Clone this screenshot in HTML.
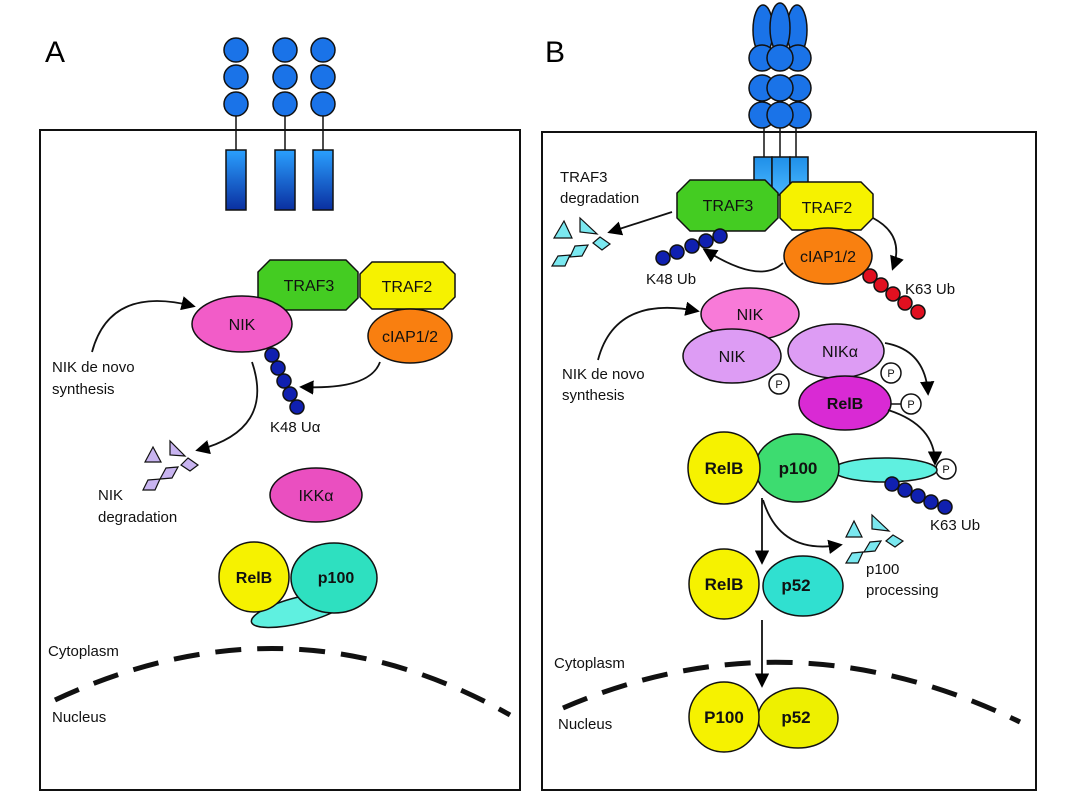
<!DOCTYPE html>
<html><head><meta charset="utf-8"><style>
html,body{margin:0;padding:0;background:#fff;}
svg{display:block;font-family:"Liberation Sans",Arial,sans-serif;}
</style></head><body>
<svg width="1080" height="810" viewBox="0 0 1080 810" xmlns="http://www.w3.org/2000/svg">
<defs>
<linearGradient id="bl" x1="0" y1="0" x2="0" y2="1"><stop offset="0" stop-color="#2aa0ff"/><stop offset="1" stop-color="#0a2fa0"/></linearGradient>
<linearGradient id="bl2" x1="0" y1="0" x2="0" y2="1"><stop offset="0" stop-color="#1f8fe8"/><stop offset="1" stop-color="#49b7ff"/></linearGradient>
<marker id="ar" viewBox="0 0 10 10" refX="8" refY="5" markerWidth="8" markerHeight="8" orient="auto"><path d="M0,0 L10,5 L0,10 z" fill="#000"/></marker>
</defs>
<rect width="1080" height="810" fill="#fff"/>
<text x="45" y="62" font-size="30">A</text>
<text x="545" y="62" font-size="30">B</text>
<rect x="40" y="130" width="480" height="660" fill="none" stroke="#111" stroke-width="2"/>
<rect x="542" y="132" width="494" height="658" fill="none" stroke="#111" stroke-width="2"/>

<!-- A receptors -->
<g stroke="#111" stroke-width="1.5">
<line x1="236" y1="115" x2="236" y2="150"/><line x1="285" y1="115" x2="285" y2="150"/><line x1="323" y1="115" x2="323" y2="150"/>
<g fill="#1a73e8">
<circle cx="236" cy="50" r="12"/><circle cx="236" cy="77" r="12"/><circle cx="236" cy="104" r="12"/>
<circle cx="285" cy="50" r="12"/><circle cx="285" cy="77" r="12"/><circle cx="285" cy="104" r="12"/>
<circle cx="323" cy="50" r="12"/><circle cx="323" cy="77" r="12"/><circle cx="323" cy="104" r="12"/>
</g>
<rect x="226" y="150" width="20" height="60" fill="url(#bl)"/>
<rect x="275" y="150" width="20" height="60" fill="url(#bl)"/>
<rect x="313" y="150" width="20" height="60" fill="url(#bl)"/>
</g>

<!-- A complex -->
<g stroke="#111" stroke-width="1.5">
<polygon points="270,260 346,260 358,272 358,298 346,310 270,310 258,298 258,272" fill="#44cc22"/>
<polygon points="372,262 443,262 455,274 455,297 443,309 372,309 360,297 360,274" fill="#f6f200"/>
<ellipse cx="242" cy="324" rx="50" ry="28" fill="#f25cc8"/>
<ellipse cx="410" cy="336" rx="42" ry="27" fill="#f97f10"/>
<g fill="#1020b0"><circle cx="272" cy="355" r="7"/><circle cx="278" cy="368" r="7"/><circle cx="284" cy="381" r="7"/><circle cx="290" cy="394" r="7"/><circle cx="297" cy="407" r="7"/></g>
<ellipse cx="316" cy="495" rx="46" ry="27" fill="#ea4fc0"/>
<ellipse cx="300" cy="610" rx="50" ry="13" fill="#5ff0e0" transform="rotate(-14 300 610)"/>
<ellipse cx="334" cy="578" rx="43" ry="35" fill="#2ee0c0"/>
<circle cx="254" cy="577" r="35" fill="#f6f200"/>
</g>
<g font-size="16" text-anchor="middle" fill="#111">
<text x="309" y="291">TRAF3</text><text x="407" y="292">TRAF2</text>
<text x="242" y="330">NIK</text><text x="410" y="342">cIAP1/2</text>
<text x="316" y="501">IKKα</text>
<text x="254" y="583" font-weight="bold">RelB</text><text x="336" y="583" font-weight="bold">p100</text>
</g>
<g font-size="15" fill="#111">
<text x="270" y="432">K48 Uα</text>
<text x="52" y="372">NIK de novo</text><text x="52" y="394">synthesis</text>
<text x="98" y="500">NIK</text><text x="98" y="522">degradation</text>
<text x="48" y="656">Cytoplasm</text><text x="52" y="722">Nucleus</text>
</g>
<g fill="none" stroke="#111" stroke-width="1.8" marker-end="url(#ar)">
<path d="M380,362 Q370,390 302,387"/>
<path d="M92,352 Q110,285 193,306"/>
<path d="M252,362 Q275,430 198,450"/>
</g>
<g fill="#c8b4f0" stroke="#111" stroke-width="1.2">
<polygon points="153,447 145,462 161,462"/><polygon points="170,441 170,455 185,456"/>
<polygon points="188,458 198,465 190,471 181,465"/>
<polygon points="166,468 178,467 172,478 160,479"/><polygon points="148,480 160,479 155,490 143,490"/>
</g>
<path d="M55,700 Q290,590 510,715" fill="none" stroke="#111" stroke-width="5" stroke-dasharray="26,16"/>

<!-- B receptor -->
<g stroke="#111" stroke-width="1.5">
<line x1="764" y1="125" x2="764" y2="158"/><line x1="780" y1="125" x2="780" y2="158"/><line x1="796" y1="125" x2="796" y2="158"/>
<g fill="#1a73e8">
<ellipse cx="763" cy="30" rx="10" ry="25"/><ellipse cx="797" cy="30" rx="10" ry="25"/><ellipse cx="780" cy="28" rx="10" ry="25"/>
<circle cx="762" cy="58" r="13"/><circle cx="798" cy="58" r="13"/><circle cx="762" cy="88" r="13"/><circle cx="798" cy="88" r="13"/><circle cx="762" cy="115" r="13"/><circle cx="798" cy="115" r="13"/>
<circle cx="780" cy="58" r="13"/><circle cx="780" cy="88" r="13"/><circle cx="780" cy="115" r="13"/>
</g>
<rect x="754" y="157" width="18" height="38" fill="url(#bl2)"/><rect x="772" y="157" width="18" height="38" fill="url(#bl2)"/><rect x="790" y="157" width="18" height="38" fill="url(#bl2)"/>
<polygon points="690,180 765,180 778,193 778,218 765,231 690,231 677,218 677,193" fill="#44cc22"/>
<polygon points="792,182 861,182 873,194 873,218 861,230 792,230 780,218 780,194" fill="#f6f200"/>
<ellipse cx="828" cy="256" rx="44" ry="28" fill="#f98010"/>
<g fill="#1020b0"><circle cx="720" cy="236" r="7"/><circle cx="706" cy="241" r="7"/><circle cx="692" cy="246" r="7"/><circle cx="677" cy="252" r="7"/><circle cx="663" cy="258" r="7"/></g>
<g fill="#e01020"><circle cx="870" cy="276" r="7"/><circle cx="881" cy="285" r="7"/><circle cx="893" cy="294" r="7"/><circle cx="905" cy="303" r="7"/><circle cx="918" cy="312" r="7"/></g>
<ellipse cx="750" cy="314" rx="49" ry="26" fill="#f87ad8"/>
<ellipse cx="732" cy="356" rx="49" ry="27" fill="#dd9cf4"/>
<ellipse cx="836" cy="351" rx="48" ry="27" fill="#dd9cf4"/>
<ellipse cx="845" cy="403" rx="46" ry="27" fill="#d92ad4"/>
<line x1="891" y1="404" x2="901" y2="404"/>
<g fill="#fff"><circle cx="779" cy="384" r="10"/><circle cx="891" cy="373" r="10"/><circle cx="911" cy="404" r="10"/><circle cx="946" cy="469" r="10"/></g>
<ellipse cx="885" cy="470" rx="52" ry="12" fill="#5ff0e0"/>
<ellipse cx="797" cy="468" rx="42" ry="34" fill="#3ddc70"/>
<circle cx="724" cy="468" r="36" fill="#f6f200"/>
<g fill="#1020b0"><circle cx="892" cy="484" r="7"/><circle cx="905" cy="490" r="7"/><circle cx="918" cy="496" r="7"/><circle cx="931" cy="502" r="7"/><circle cx="945" cy="507" r="7"/></g>
<ellipse cx="803" cy="586" rx="40" ry="30" fill="#30e0d0"/>
<circle cx="724" cy="584" r="35" fill="#f6f200"/>
<ellipse cx="798" cy="718" rx="40" ry="30" fill="#eef000"/>
<circle cx="724" cy="717" r="35" fill="#f6f200"/>
</g>
<g font-size="11" text-anchor="middle" fill="#111"><text x="779" y="388">P</text><text x="891" y="377">P</text><text x="911" y="408">P</text><text x="946" y="473">P</text></g>
<g font-size="16" text-anchor="middle" fill="#111">
<text x="728" y="211">TRAF3</text><text x="827" y="213">TRAF2</text>
<text x="828" y="262">cIAP1/2</text>
<text x="750" y="320">NIK</text><text x="732" y="362">NIK</text><text x="840" y="357">NIKα</text>
<text x="845" y="409" font-weight="bold">RelB</text>
<g font-weight="bold" font-size="17"><text x="724" y="474">RelB</text><text x="798" y="474">p100</text>
<text x="724" y="590">RelB</text><text x="796" y="591">p52</text>
<text x="724" y="723">P100</text><text x="796" y="723">p52</text></g>
</g>
<g font-size="15" fill="#111">
<text x="560" y="182">TRAF3</text><text x="560" y="203">degradation</text>
<text x="646" y="284">K48 Ub</text><text x="905" y="294">K63 Ub</text>
<text x="562" y="379">NIK de novo</text><text x="562" y="400">synthesis</text>
<text x="930" y="530">K63 Ub</text>
<text x="866" y="574">p100</text><text x="866" y="595">processing</text>
<text x="554" y="668">Cytoplasm</text><text x="558" y="729">Nucleus</text>
</g>
<g fill="none" stroke="#111" stroke-width="1.8" marker-end="url(#ar)">
<path d="M672,212 L610,232"/>
<path d="M783,263 Q760,285 705,250"/>
<path d="M873,218 Q905,235 893,268"/>
<path d="M598,360 Q615,295 697,311"/>
<path d="M885,343 Q925,350 928,393"/>
<path d="M888,410 Q935,425 935,463"/>
<path d="M762,498 L762,562"/>
<path d="M763,500 Q780,555 840,545"/>
<path d="M762,620 L762,685"/>
</g>
<g fill="#7ae8f0" stroke="#111" stroke-width="1.2">
<polygon points="564,221 554,238 572,238"/><polygon points="580,218 580,232 597,234"/>
<polygon points="600,237 610,244 602,250 593,243"/>
<polygon points="575,246 588,245 582,256 570,257"/><polygon points="558,256 570,255 565,266 552,266"/>
<polygon points="854,521 846,537 862,537"/><polygon points="872,515 872,529 889,531"/>
<polygon points="893,535 903,541 895,547 886,541"/>
<polygon points="870,542 881,541 875,551 864,552"/><polygon points="852,553 863,552 858,563 846,563"/>
</g>
<path d="M563,708 Q790,610 1020,722" fill="none" stroke="#111" stroke-width="5" stroke-dasharray="26,16"/>
</svg>
</body></html>
